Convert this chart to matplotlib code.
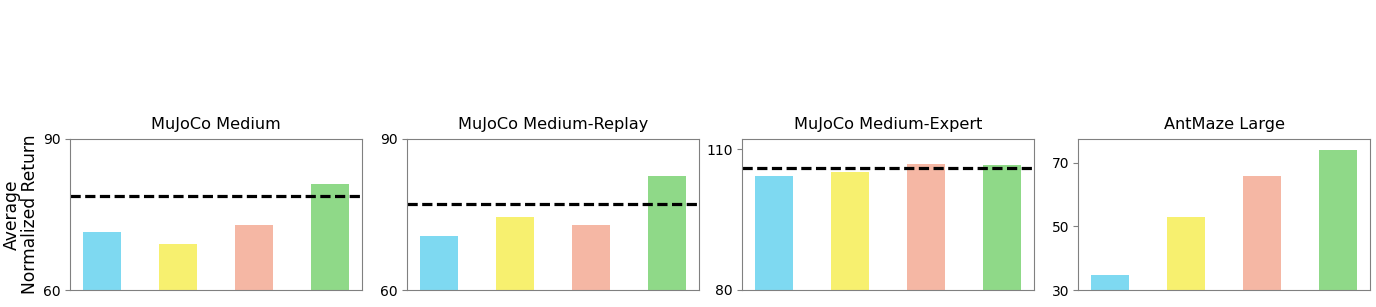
import matplotlib.pyplot as plt
import numpy as np

# values
TITLES = ["MuJoCo Medium", "MuJoCo Medium-Replay", "MuJoCo Medium-Expert", "AntMaze Large"]
MEDIUM = [71.6, 69.2, 73.0, 81.1]
MEDIUM_REPLAY = [70.7, 74.5, 73.0, 82.7]
MEDIUM_EXPERT = [104.3, 105.2, 106.9, 106.6]
ANTMAZE_LARGE = [34.7, 53.0, 65.8, 73.9]
BASELINES = [78.7, 77.0, 106.0, None]
Y_LIMITS = [(60, 90), (60, 90), (80, 112.2), (30, 77.5)]
Y_TICKS = [[60, 90], [60, 90], [80, 110], [30, 50, 70]]

COLORS = ["#7ed9f1", "#f7f06f", "#f5b7a4", "#8fd988"]
AXES_LEFT = [70, 407, 742, 1078]
AXES_WIDTH = 292
FIG_W, FIG_H = 1376, 307


def draw_panel(ax, title, values, baseline, ylim, yticks):
    x = np.arange(len(values))
    ax.bar(x, values, width=0.5, color=COLORS)
    if baseline is not None:
        ax.axhline(baseline, color="black", linestyle="--", linewidth=2.3, dashes=(3.2, 1.4))
    ax.set_xlim(-0.425, 3.425)
    ax.set_ylim(*ylim)
    ax.set_yticks(yticks)
    ax.set_xticks([])
    ax.tick_params(axis="y", labelsize=10, color="#808080", length=3.5, pad=3)
    for spine in ax.spines.values():
        spine.set_color("#808080")
    ax.set_title(title, fontsize=11.6, pad=7)


fig = plt.figure(figsize=(FIG_W / 100, FIG_H / 100), dpi=100)
data = [MEDIUM, MEDIUM_REPLAY, MEDIUM_EXPERT, ANTMAZE_LARGE]
bottom = (FIG_H - 290) / FIG_H
top = (FIG_H - 139) / FIG_H
for i, values in enumerate(data):
    ax = fig.add_axes([AXES_LEFT[i] / FIG_W, bottom, AXES_WIDTH / FIG_W, top - bottom])
    draw_panel(ax, TITLES[i], values, BASELINES[i], Y_LIMITS[i], Y_TICKS[i])
    if i == 0:
        ax.set_ylabel("Average\nNormalized Return", fontsize=12.3, labelpad=3, linespacing=1.0)

fig.savefig("out.png", dpi=100)
